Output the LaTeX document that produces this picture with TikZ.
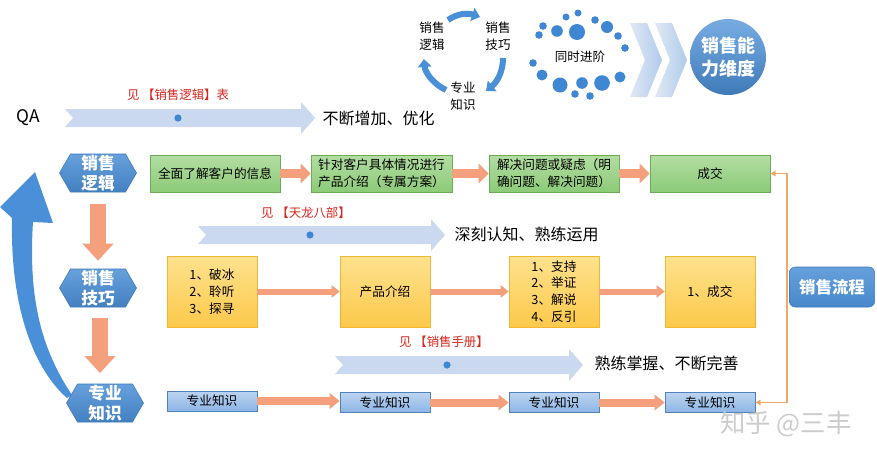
\documentclass[tikz,border=0pt]{standalone}
\usepackage{fontspec}
\setmainfont{Noto Sans CJK SC}
\usetikzlibrary{shapes.symbols,arrows.meta,shapes.geometric}
\definecolor{hexblue}{HTML}{4B8FD6}
\definecolor{hexborder}{HTML}{3B78BD}
\definecolor{gtop}{HTML}{B3DEA3}
\definecolor{gbot}{HTML}{8CCA78}
\definecolor{gborder}{HTML}{6AAD55}
\definecolor{ytop}{HTML}{FEE28E}
\definecolor{ybot}{HTML}{FCC94A}
\definecolor{yborder}{HTML}{F2B632}
\definecolor{btop}{HTML}{BBD4F0}
\definecolor{bbot}{HTML}{8DB5E6}
\definecolor{bborder}{HTML}{4F81BD}
\definecolor{orarrow}{HTML}{F5A07C}
\definecolor{lightarr}{HTML}{CAD9EF}
\definecolor{dotblue}{HTML}{3F87D3}
\definecolor{redtxt}{HTML}{D7261E}
\definecolor{oline}{HTML}{F0A868}
\definecolor{cycblue}{HTML}{4A90D9}
\begin{document}
\begin{tikzpicture}[x=0.75pt,y=-0.75pt,
  hexa/.style={signal, signal to=east and west, signal pointer angle=120,
    draw=hexborder, top color=hexblue!85!white, bottom color=hexblue!90!black, text=white,
    font=\bfseries\fontsize{12.5}{15}\selectfont, align=center,
    minimum width=57.75pt, minimum height=28.5pt, inner sep=0pt},
  gbox/.style={draw=gborder, top color=gtop, bottom color=gbot, font=\fontsize{9.5}{12.5}\selectfont,
    align=left, minimum height=27.75pt, inner sep=2pt},
  ybox/.style={draw=yborder, top color=ytop, bottom color=ybot, font=\fontsize{9.5}{12.5}\selectfont,
    align=left, minimum width=67.5pt, minimum height=53.25pt, inner sep=2pt},
  bbox/.style={draw=bborder, top color=btop, bottom color=bbot, font=\fontsize{9.5}{11}\selectfont,
    minimum width=67.5pt, minimum height=15pt, inner sep=1pt},
  arrA/.style={orarrow, line width=6.75pt, -{Triangle[length=7.5pt,width=14.25pt]}},
  arrB/.style={orarrow, line width=4.5pt, -{Triangle[length=6pt,width=9pt]}},
  arrC/.style={orarrow, line width=6pt, -{Triangle[length=7.5pt,width=11.25pt]}},
  arrD/.style={orarrow, line width=12pt, -{Triangle[length=12.75pt,width=22.5pt]}},
  cyc/.style={cycblue, line width=4.5pt, -{Triangle[length=6pt,width=10pt]}},
  ortxt/.style={font=\fontsize{12}{14}\selectfont, anchor=west},
  redlab/.style={text=redtxt, font=\fontsize{9.3}{11}\selectfont},
  smalltxt/.style={font=\fontsize{9.4}{12.5}\selectfont, align=center},
  olinestyle/.style={draw=oline, line width=1.3pt, -{Triangle[length=4pt,width=4pt]}}
]
\useasboundingbox (0,0) rectangle (877,457);
\fill[white] (0,0) rectangle (877,457);

% ---------- top cycle ----------
\node[smalltxt] (c1) at (432,36) {销售\\逻辑};
\node[smalltxt] (c2) at (498,36) {销售\\技巧};
\node[smalltxt] (c3) at (463,96) {专业\\知识};
\draw[cyc] (448,20) .. controls (458,13) and (468,13) .. (480,17);
\draw[cyc] (503,58) .. controls (503,72) and (497,82) .. (486,91);
\draw[cyc] (446,90) .. controls (433,84) and (425,72) .. (424,59);

% ---------- dots ----------
\foreach \x/\y/\r in {539/35/3.8,543/26/3.8,557/31/5.8,566/17/3.5,578/13/3.5,577/32/8,595/20/3.8,607/27/6,618/36/3.8,625/48/3.8,533/63/3.8,542/75/5.5,560/85/7.5,575/94/3.8,582/83/5.8,590/96/3.8,602/83/7.8,620/77/5.5}
  \fill[dotblue] (\x,\y) circle[radius=\r*0.75pt];
\node[smalltxt] (tj) at (580,57) {同时进阶};

% ---------- chevrons ----------
\foreach \dx in {0,25}
  \shade[left color=lightarr!60!white, right color=lightarr!80!cycblue]
    (630+\dx,23) -- (647+\dx,23) -- (662+\dx,60) -- (647+\dx,97) -- (630+\dx,97) -- (645+\dx,60) -- cycle;

% ---------- big circle ----------
\node[circle, minimum size=57pt, top color=cycblue!75!white, bottom color=cycblue!85!black,
  text=white, font=\bfseries\fontsize{13.5}{17}\selectfont, align=center, inner sep=0pt] (dim) at (728,57) {销售能\\力维度};

% ---------- progress arrows ----------
\foreach \xa/\xb/\yc in {65/315/118,198/445/235,335/583/365}
  \fill[lightarr] (\xa,\yc-9) -- (\xb-14,\yc-9) -- (\xb-14,\yc-16) -- (\xb,\yc) -- (\xb-14,\yc+16)
    -- (\xb-14,\yc+9) -- (\xa,\yc+9) -- (\xa+8,\yc) -- cycle;
\foreach \x/\y in {178/118,310/235,447/365}
  \fill[dotblue] (\x,\y) circle[radius=2.7pt];

\node[font=\fontsize{13}{15}\selectfont] (qa) at (28,118) {QA};
\node[redlab] (r1) at (178,95) {见 【销售逻辑】表};
\node[redlab] (r2) at (306,213) {见 【天龙八部】};
\node[redlab] (r3) at (444,342) {见 【销售手册】};
\node[ortxt] (t1) at (318,118) {不断增加、优化};
\node[ortxt] (t2) at (450,234) {深刻认知、熟练运用};
\node[ortxt] (t3) at (590,363) {熟练掌握、不断完善};

% ---------- big curved arrow ----------
\fill[cycblue] (67,398) .. controls (35,370) and (10,310) .. (12,218) -- (0,207) -- (35,172) -- (53,223)
  -- (33,222) .. controls (28,300) and (42,350) .. (72,395) -- cycle;

% ---------- hexagons ----------
\node[hexa] (h1) at (98,173) {销售\\逻辑};
\node[hexa] (h2) at (98,288) {销售\\技巧};
\node[hexa] (h3) at (105,403) {专业\\知识};
\draw[arrD, shorten <=9pt, shorten >=6pt] (h1.south) -- (h2.north);
\draw[arrD, shorten <=8pt, shorten >=8pt] ([xshift=1.5pt]h2.south) -- ([xshift=-3.75pt]h3.north);

% ---------- row 1 ----------
\node[gbox, minimum width=97.5pt] (g1) at (215,173.5) {全面了解客户的信息};
\node[gbox, minimum width=105.75pt] (g2) at (381.5,173.5) {针对客户具体情况进行\\产品介绍（专属方案）};
\node[gbox, minimum width=97.5pt] (g3) at (554,173.5) {解决问题或疑虑（明\\确问题、解决问题）};
\node[gbox, minimum width=90pt, align=center] (g4) at (710,173.5) {成交};
\draw[arrA] (g1) -- (g2);
\draw[arrA] (g2) -- (g3);
\draw[arrA] (g3) -- (g4);

% ---------- row 2 ----------
\node[ybox] (y1) at (212,291.5) {1、破冰\\2、聆听\\3、探寻};
\node[ybox, align=center] (y2) at (385,291.5) {产品介绍};
\node[ybox] (y3) at (554,291.5) {1、支持\\2、举证\\3、解说\\4、反引};
\node[ybox, align=center] (y4) at (710,291.5) {1、成交};
\draw[arrB] (y1) -- (y2);
\draw[arrB] (y2) -- (y3);
\draw[arrB] (y3) -- (y4);

% ---------- row 3 ----------
\node[bbox] (k1) at (212,401) {专业知识};
\node[bbox] (k2) at (385,402.5) {专业知识};
\node[bbox] (k3) at (554,402.5) {专业知识};
\node[bbox] (k4) at (710,402.5) {专业知识};
\draw[arrC] (k1.east) -- (k2.west |- k1.east);
\draw[arrC] (k2) -- (k3);
\draw[arrC] (k3) -- (k4);

% ---------- sales flow ----------
\node[draw=hexborder, rounded corners=4.5pt, top color=hexblue!85!white, bottom color=hexblue!95!black,
  text=white, font=\bfseries\fontsize{12.3}{14}\selectfont, minimum width=64pt, minimum height=30pt] (flow) at (832,287) {销售流程};
\coordinate (fk) at (787,287);
\draw[olinestyle] (fk) |- (g4.east);
\draw[olinestyle] (fk) |- (k4.east);

% ---------- watermark ----------
\node[text=black!20, font=\fontsize{19}{21}\selectfont] (wm) at (786,424) {知乎 @三丰};
\end{tikzpicture}
\end{document}
